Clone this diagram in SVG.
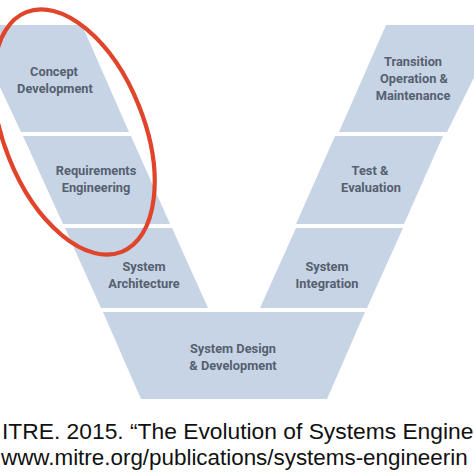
<svg xmlns="http://www.w3.org/2000/svg" width="474" height="474" viewBox="0 0 474 474">
<style>
.blk{fill:#c6d4e6}
.lbl{font-family:Roboto,"Liberation Sans",sans-serif;font-weight:700;font-size:12.8px;fill:#56606f;text-anchor:middle}
.cite{font-family:"Liberation Sans",Arial,sans-serif;font-size:22.8px;fill:#111}
</style>
<rect width="474" height="474" fill="#fff"/>
<g id="concept">
<polygon class="blk" points="-29,25 82,25 129,132 21,132"/>
<text class="lbl" x="54" y="76">Concept</text>
<text class="lbl" x="55" y="93">Development</text>
</g>
<g id="requirements">
<polygon class="blk" points="23,136 131,136 170,224 63,224"/>
<text class="lbl" x="96" y="175">Requirements</text>
<text class="lbl" x="96" y="192">Engineering</text>
</g>
<g id="architecture">
<polygon class="blk" points="65,228 172,228 208,308 101,308"/>
<text class="lbl" x="144" y="271">System</text>
<text class="lbl" x="144" y="288">Architecture</text>
</g>
<g id="design">
<polygon class="blk" points="103,312 365,312 327,399 141,399"/>
<text class="lbl" x="233" y="353">System Design</text>
<text class="lbl" x="233" y="370">&amp; Development</text>
</g>
<g id="integration">
<polygon class="blk" points="296,228 403,228 367,308 260,308"/>
<text class="lbl" x="327" y="271">System</text>
<text class="lbl" x="327" y="288">Integration</text>
</g>
<g id="test">
<polygon class="blk" points="335,136 443,136 404,224 296,224"/>
<text class="lbl" x="370" y="175">Test &amp;</text>
<text class="lbl" x="371" y="192">Evaluation</text>
</g>
<g id="transition">
<polygon class="blk" points="386,25 500,25 447,132 339,132"/>
<text class="lbl" x="413" y="66">Transition</text>
<text class="lbl" x="414" y="83">Operation &amp;</text>
<text class="lbl" x="413" y="100">Maintenance</text>
</g>
<g id="highlight">
<ellipse cx="74" cy="132" rx="129" ry="70" transform="rotate(68.3 74 132)" fill="none" stroke="#e0442a" stroke-width="4.2"/>
</g>
<g id="connectors"></g>
<text class="cite" x="2" y="439">ITRE. 2015. “The Evolution of Systems Engine</text>
<text class="cite" x="1" y="465" style="font-size:22.4px">www.mitre.org/publications/systems-engineerin</text>
</svg>
